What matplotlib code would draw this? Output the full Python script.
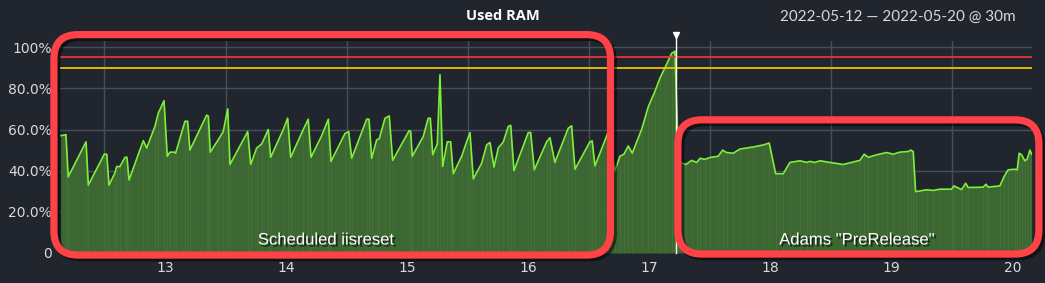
import matplotlib
matplotlib.use("Agg")
import matplotlib.pyplot as plt
from matplotlib.patches import FancyBboxPatch
from matplotlib.transforms import IdentityTransform
import matplotlib.patheffects as pe

# ---- data (day of May 2022, used RAM %) ----
days = [12.141, 12.182, 12.201, 12.348, 12.367, 12.499, 12.519, 12.538, 12.587, 12.601,
        12.628, 12.670, 12.686, 12.703, 12.821, 12.849, 12.917, 12.945, 12.992, 13.019,
        13.041, 13.077, 13.088, 13.165, 13.187, 13.206, 13.344, 13.358, 13.374, 13.440,
        13.481, 13.518, 13.537, 13.683, 13.708, 13.757, 13.799, 13.853, 13.873, 13.977,
        14.013, 14.038, 14.142, 14.183, 14.206, 14.294, 14.349, 14.371, 14.486, 14.517,
        14.542, 14.666, 14.685, 14.707, 14.748, 14.770, 14.817, 14.852, 14.880, 15.017,
        15.029, 15.042, 15.133, 15.174, 15.191, 15.211, 15.249, 15.271, 15.293, 15.331,
        15.359, 15.381, 15.450, 15.491, 15.519, 15.546, 15.615, 15.656, 15.684, 15.717,
        15.752, 15.794, 15.835, 15.855, 15.882, 16.000, 16.020, 16.050, 16.152, 16.179,
        16.220, 16.330, 16.358, 16.386, 16.509, 16.528, 16.551, 16.655, 16.716, 16.757,
        16.790, 16.826, 16.859, 16.936, 16.991, 17.046, 17.088, 17.129, 17.184, 17.211,
        17.240, 17.253, 17.302, 17.349, 17.391, 17.418, 17.459, 17.500, 17.569, 17.605,
        17.638, 17.693, 17.748, 17.803, 17.858, 17.941, 17.990, 18.043, 18.106, 18.161,
        18.244, 18.299, 18.326, 18.367, 18.409, 18.491, 18.601, 18.739, 18.774, 18.808,
        18.877, 18.960, 19.014, 19.069, 19.138, 19.158, 19.179, 19.199, 19.290, 19.344,
        19.400, 19.496, 19.515, 19.579, 19.612, 19.633, 19.757, 19.780, 19.798, 19.895,
        19.928, 19.963, 20.019, 20.038, 20.054, 20.074, 20.101, 20.120, 20.143, 20.157]
used_ram = [57, 57.5, 37, 54, 33, 48, 48, 33, 39, 42,
            42, 46.5, 46.5, 35.5, 54.6, 51, 61.5, 68, 74, 47,
            49, 49, 48.5, 64, 64, 50, 67, 66.5, 49, 55,
            59, 70, 43, 59, 43, 51, 53, 60, 46.5, 60,
            65.5, 46.5, 60, 65, 46.5, 57, 65, 44.5, 58, 59,
            46, 65, 65, 46, 55, 55.5, 65.5, 66.6, 45, 59.5,
            59, 47, 56.6, 65.5, 65.5, 47.7, 53, 86.6, 42, 54,
            54, 38.5, 47, 54, 58.5, 36, 43.6, 52.5, 53.7, 41.7,
            51, 54, 61.5, 62, 40, 58.5, 58.5, 40.4, 54, 56,
            44, 60.6, 61.8, 40.7, 54, 54.5, 42.3, 58, 40, 47,
            48, 52, 48.5, 60, 71, 78.5, 85, 90, 97, 98,
            45, 44, 43, 45, 44, 46, 45.5, 46.4, 47, 50,
            48.8, 48.5, 50.5, 51, 51.5, 52.5, 53.4, 38.5, 38.5, 44,
            44.8, 44, 44.5, 44, 44.8, 44, 43, 45, 48, 46.5,
            47.7, 48.8, 48, 49, 49.3, 50, 49.3, 29.8, 30.7, 30.4,
            31, 31, 32.6, 30.8, 33.9, 31.8, 32, 33.4, 32, 32.6,
            37, 40.4, 40.7, 40.4, 48.5, 47.7, 44.8, 45.6, 50, 48]

x_ticks = [13, 14, 15, 16, 17, 18, 19, 20]
x_tick_labels = ["13", "14", "15", "16", "17", "18", "19", "20"]
x_grid = [12.5, 13.5, 14.5, 15.5, 16.5, 17.5, 18.5, 19.5]
y_ticks = [0, 20, 40, 60, 80, 100]
y_tick_labels = ["0", "20.0%", "40.0%", "60.0%", "80.0%", "100%"]
critical_level = 95
warning_level = 90
peak_day = 17.22

title = "Used RAM"
range_text = "2022-05-12 \u2014 2022-05-20 @ 30m"
notes = ["Scheduled iisreset", 'Adams "PreRelease"']
note_pos = [(14.33, 6.3), (18.714, 6.3)]
note_boxes = [(12.083, -1.0, 16.679, 106.1), (17.236, -0.5, 20.217, 64.7)]

# ---- style ----
BG = "#21262e"
GRID = "#474e5b"
TXT = "#d6d9de"

fig = plt.figure(figsize=(10.45, 2.83), dpi=100, facecolor=BG)
ax = fig.add_axes([60 / 1045, 30 / 283, 972 / 1045, 212 / 283])
ax.set_facecolor(BG)
ax.set_xlim(12.133, 20.16)
ax.set_ylim(0, 103)

for g in x_grid:
    ax.axvline(g, color=GRID, lw=1.0, zorder=1)
for t in y_ticks[1:]:
    ax.axhline(t, color=GRID, lw=1.0, zorder=1)

ax.fill_between(days, used_ram, 0, color="#3e6a33", alpha=0.95, lw=0, zorder=2)
ax.vlines(days, 0, used_ram, color="#5a8a45", lw=0.6, alpha=0.35, zorder=2)
ax.plot(days, used_ram, color="#7ef03a", lw=1.2, zorder=3)

ax.axhline(critical_level, color="#e8333b", lw=1.3, zorder=4)
ax.axhline(warning_level, color="#f2c200", lw=1.3, zorder=4)

ax.plot([peak_day, peak_day], [0, 106], color="white", lw=1.0, zorder=5, clip_on=False)
ax.plot([peak_day], [106], marker="v", color="white", ms=5, zorder=6, clip_on=False)

ax.set_xticks(x_ticks)
ax.set_xticklabels(x_tick_labels, fontsize=10, color=TXT, family="DejaVu Sans")
ax.set_yticks(y_ticks)
ax.set_yticklabels(y_tick_labels, fontsize=10, color=TXT, family="DejaVu Sans")
ax.tick_params(length=0, pad=6)
for s in ax.spines.values():
    s.set_visible(False)

fig.text(503 / 1045, 1 - 16 / 283, title, ha="center", va="center", fontsize=10.5,
         fontweight="bold", color="white", family="Open Sans")
fig.text(898 / 1045, 1 - 17 / 283, range_text, ha="center", va="center", fontsize=11,
         color=TXT, family="Lato")

fig.canvas.draw()
for (x0, y0, x1, y1) in note_boxes:
    p0 = ax.transData.transform((x0, y0))
    p1 = ax.transData.transform((x1, y1))
    box = FancyBboxPatch((p0[0], p0[1]), p1[0] - p0[0], p1[1] - p0[1],
                         boxstyle="round,pad=0,rounding_size=24",
                         transform=IdentityTransform(), fill=False,
                         edgecolor="#ff4148", lw=5.2, zorder=10,
                         path_effects=[pe.SimpleLineShadow(offset=(2, -2), shadow_color="black", alpha=0.5),
                                       pe.Normal()])
    fig.patches.append(box)

for txt, (xx, yy) in zip(notes, note_pos):
    ax.text(xx, yy, txt, ha="center", va="center", fontsize=12, color="white",
            family="Liberation Sans", zorder=11,
            path_effects=[pe.withSimplePatchShadow(offset=(1.5, -1.5), shadow_rgbFace="black", alpha=0.6)])

fig.savefig("out.png", dpi=100, facecolor=BG)
